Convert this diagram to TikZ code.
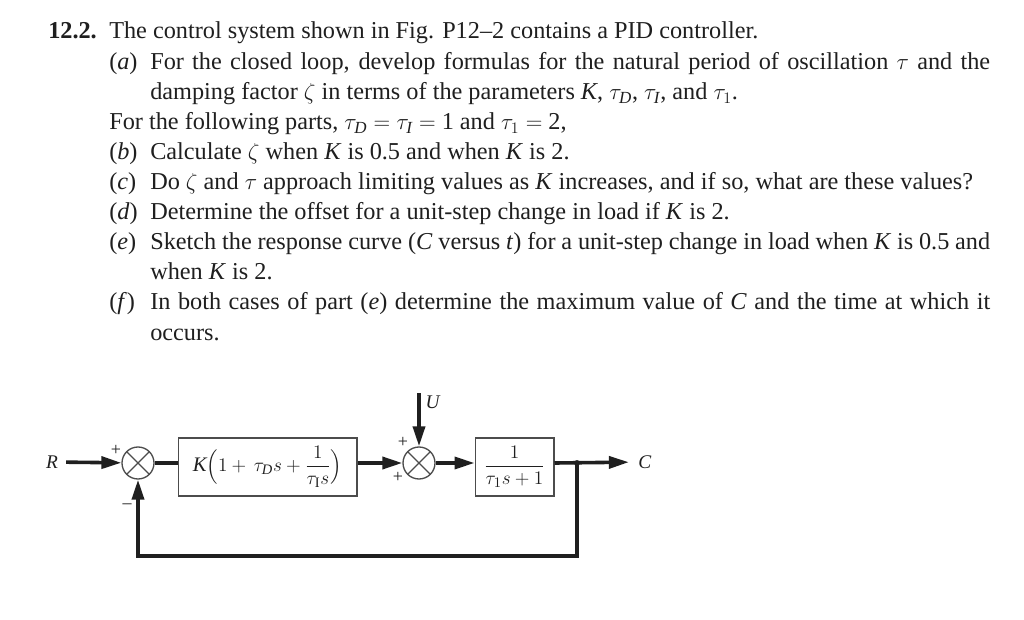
\documentclass[tikz,border=0pt]{standalone}
\usepackage{amsmath}
\usepackage{fontspec}
\setmainfont{Liberation Serif}
\usetikzlibrary{arrows.meta}

\begin{document}
\begin{tikzpicture}[x=0.75pt,y=-0.75pt]

	\def\jw{630pt}
	\def\xa{48}
	\def\xb{109}
	\def\xc{150}

	% Colours
	\colorlet{inkcolor}{black!88}
	\colorlet{boxcolor}{black!70}

	% Styles
	\tikzstyle{txt}=[anchor=base west, inner sep=0pt, font=\fontsize{18.2}{21}\selectfont, text=inkcolor]
	\tikzstyle{lbl}=[inner sep=1pt, font=\fontsize{14.5}{16}\selectfont, text=inkcolor]
	\tikzstyle{sgn}=[inner sep=0pt, font=\fontsize{13.5}{14}\selectfont, text=inkcolor]
	\tikzstyle{block}=[draw=boxcolor, line width=1pt, minimum height=43.5pt, inner sep=2pt, font=\fontsize{15.5}{17}\selectfont, text=inkcolor]
	\tikzstyle{sum}=[draw=boxcolor, circle, line width=1pt, minimum size=24pt, inner sep=0pt,
		path picture={\draw[boxcolor, line width=1pt] (path picture bounding box.north west) -- (path picture bounding box.south east)
		(path picture bounding box.north east) -- (path picture bounding box.south west);}]
	\tikzstyle{flow}=[line width=2.7pt, draw=inkcolor]
	\tikzstyle{flowarrow}=[-{Triangle[length=15pt,width=9pt]}]

	\fill[white] (0,0) rectangle (1024,620);
	\useasboundingbox (0,0) rectangle (1024,620);

	% Problem text
	\node[txt] (n1) at (\xa,39) {\textbf{12.2.}};
	\node[txt] (l1) at (\xb,39) {The control system shown in Fig. P12–2 contains a PID controller.};
	\node[txt] (n2) at (\xb,70) {(\textit{a})};
	\node[txt] (l2) at (\xc,70) {\makebox[\jw][s]{For the closed loop, develop formulas for the natural period of oscillation $\tau$ and the}};
	\node[txt] (l3) at (\xc,100) {damping factor $\zeta$ in terms of the parameters \textit{K}, $\tau_{\textit{D}}$, $\tau_{\textit{I}}$, and $\tau_1$.};
	\node[txt] (l4) at (\xb,130) {For the following parts, $\tau_{\textit{D}} = \tau_{\textit{I}} =$ 1 and $\tau_1 =$ 2,};
	\node[txt] (n5) at (\xb,160) {(\textit{b})};
	\node[txt] (l5) at (\xc,160) {Calculate $\zeta$ when \textit{K} is 0.5 and when \textit{K} is 2.};
	\node[txt] (n6) at (\xb,190) {(\textit{c})};
	\node[txt] (l6) at (\xc,190) {Do $\zeta$ and $\tau$ approach limiting values as \textit{K} increases, and if so, what are these values?};
	\node[txt] (n7) at (\xb,220) {(\textit{d})};
	\node[txt] (l7) at (\xc,220) {Determine the offset for a unit-step change in load if \textit{K} is 2.};
	\node[txt] (n8) at (\xb,250) {(\textit{e})};
	\node[txt] (l8) at (\xc,250) {\makebox[\jw][s]{Sketch the response curve (\textit{C} versus \textit{t}) for a unit-step change in load when \textit{K} is 0.5 and}};
	\node[txt] (l9) at (\xc,280) {when \textit{K} is 2.};
	\node[txt] (n10) at (\xb,310) {(\textit{f})};
	\node[txt] (l10) at (\xc,310) {\makebox[\jw][s]{In both cases of part (\textit{e}) determine the maximum value of \textit{C} and the time at which it}};
	\node[txt] (l11) at (\xc,340) {occurs.};

	% Blocks
	\node[lbl] (R) at (52,462) {\textit{R}};
	\node[sum] (sum1) at (138,463) {};
	\node[block, minimum width=134pt] (pid) at (267.5,467)
		{$\textit{K}\Bigl(1+\,\tau_{\textit{D}}s+\dfrac{1}{\tau_{\mathrm{I}}s}\Bigr)$};
	\node[sum] (sum2) at (419,463) {};
	\node[block, minimum width=59pt] (plant) at (514.5,467) {$\dfrac{1}{\tau_1 s+1}$};
	\node[lbl] (C) at (645,462) {\textit{C}};
	\node[lbl, anchor=west] (U) at (424,402) {\textit{U}};
	\coordinate (Utop) at (419,393);
	\coordinate (branch) at (577,463);
	\coordinate (fb) at (138,556);

	% Signs
	\node[sgn] (p1) at (116,450) {+};
	\node[sgn] (m1) at (127,506) {–};
	\node[sgn] (p2) at (403,442) {+};
	\node[sgn] (p3) at (398,477) {+};

	% Signal lines
	\draw[flow, flowarrow, shorten <=5pt] (R) -- (sum1);
	\draw[flow] (sum1) -- (sum1 -| pid.west);
	\draw[flow, flowarrow] (sum1 -| pid.east) -- (sum2);
	\draw[flow, flowarrow] (Utop) -- (sum2);
	\draw[flow, flowarrow] (sum2) -- (sum2 -| plant.west);
	\draw[flow, flowarrow, shorten >=6pt] (sum2 -| plant.east) -- (C);
	\draw[flow, flowarrow] (branch) |- (fb) -- (sum1);
	\fill[inkcolor] (branch) circle (2.2pt);

\end{tikzpicture}
\end{document}
